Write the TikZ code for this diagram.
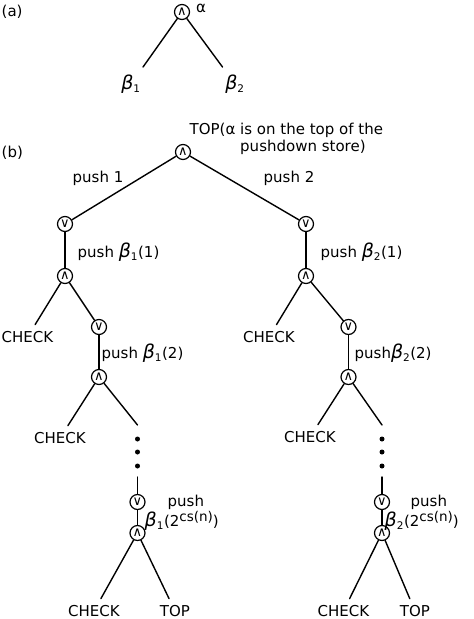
\documentclass[tikz,border=0pt]{standalone}
\usepackage{fontspec}
\setmainfont{DejaVu Sans}
\usetikzlibrary{positioning}

% a large slanted beta with a text subscript, as the lettering shows it
\newcommand{\bsub}[1]{{\fontsize{19}{19}\selectfont\itshape β}\textsubscript{#1}}
% the exponent cs(n), set nearly full size
\newcommand{\csn}{\raisebox{5pt}{\fontsize{13.5}{13.5}\selectfont cs(n)}}

\begin{document}
\begin{tikzpicture}[x=1pt, y=-1pt, line cap=round, line join=round, line width=1.4pt,
		every node/.style={font=\fontsize{15}{17}\selectfont, inner sep=1pt},
		gate/.style={draw, circle, line width=1.2pt, minimum size=15pt, inner sep=0pt, font=\fontsize{13}{13}\selectfont},
		leaf/.style={inner sep=6pt},
		pushlbl/.style={anchor=west}]
		
		\useasboundingbox (0,0) rectangle (474,619);
		
		% (a): the and-node alpha with its two successors
		\node[pushlbl] (capa) at (0,12) {(a)};
		\node[gate] (aroot) at (182,12) {∧};
		\node (alpha) at (201,8) {α};
		\node[leaf, inner sep=7pt] (ab1) at (131,84) {\bsub{1}};
		\node[leaf, inner sep=7pt] (ab2) at (235,84) {\bsub{2}};
		\draw (aroot) -- (ab1);
		\draw (aroot) -- (ab2);
		
		% (b): root and its note
		\node[pushlbl] (capb) at (0,153) {(b)};
		\node[gate] (broot) at (183,152) {∧};
		\node[anchor=north west, align=left] (topnote) at (188,121)
		{TOP(α is on the top of the\\\phantom{TOP(α }pushdown store)};
		\node[pushlbl] (push1) at (71,178) {push 1};
		\node[pushlbl] (push2) at (262,178) {push 2};
		
		% left branch
		\node[gate] (lv1) at (65,224) {∨};
		\node[gate] (la1) at (65,276) {∧};
		\node[pushlbl] (lp1) at (76,252) {push \bsub{1}(1)};
		\node[leaf] (lc1) at (27.5,337) {CHECK};
		\node[gate] (lv2) at (99,327) {∨};
		\node[gate] (la2) at (99,377) {∧};
		\node[pushlbl] (lp2) at (100,353) {push \bsub{1}(2)};
		\node[leaf] (lc2) at (60,438) {CHECK};
		\coordinate (ldtop) at (137.5,425);
		\coordinate (ldbot) at (137.5,477);
		\node[gate] (lv3) at (137.5,502) {∨};
		\node[gate] (la3) at (137.5,533) {∧};
		\node[pushlbl] (lp3) at (166,502) {push};
		\node[pushlbl] (lp3b) at (143,521) {\bsub{1}(2\csn)};
		\node[leaf] (lc3) at (94,611) {CHECK};
		\node[leaf] (lt3) at (175,611) {TOP};
		
		\draw (broot) -- (lv1);
		\draw (lv1) -- (la1);
		\draw (la1) -- (lc1);
		\draw (la1) -- (lv2);
		\draw (lv2) -- (la2);
		\draw (la2) -- (lc2);
		\draw (la2) -- (ldtop);
		\draw (ldbot) -- (lv3);
		\draw (lv3) -- (la3);
		\draw (la3) -- (lc3);
		\draw (la3) -- (lt3);
		\foreach \y in {439,452,466}
		\fill (137.5,\y) circle (2.5pt);
		
		% right branch
		\node[gate] (rv1) at (306,224) {∨};
		\node[gate] (ra1) at (306,276) {∧};
		\node[pushlbl] (rp1) at (319,252) {push \bsub{2}(1)};
		\node[leaf] (rc1) at (269,337) {CHECK};
		\node[gate] (rv2) at (348.5,327) {∨};
		\node[gate] (ra2) at (348.5,377) {∧};
		\node[pushlbl] (rp2) at (353,353) {push\bsub{2}(2)};
		\node[leaf] (rc2) at (310,437) {CHECK};
		\coordinate (rdtop) at (382,425);
		\coordinate (rdbot) at (382,477);
		\node[gate] (rv3) at (382,502) {∨};
		\node[gate] (ra3) at (382,533) {∧};
		\node[pushlbl] (rp3) at (409,502) {push};
		\node[pushlbl] (rp3b) at (383,521) {\bsub{2}(2\csn)};
		\node[leaf] (rc3) at (343.5,611) {CHECK};
		\node[leaf] (rt3) at (415,611) {TOP};
		
		\draw (broot) -- (rv1);
		\draw (rv1) -- (ra1);
		\draw (ra1) -- (rc1);
		\draw (ra1) -- (rv2);
		\draw (rv2) -- (ra2);
		\draw (ra2) -- (rc2);
		\draw (ra2) -- (rdtop);
		\draw (rdbot) -- (rv3);
		\draw (rv3) -- (ra3);
		\draw (ra3) -- (rc3);
		\draw (ra3) -- (rt3);
		\foreach \y in {439,452,466}
		\fill (382,\y) circle (2.5pt);
		
	\end{tikzpicture}
\end{document}
